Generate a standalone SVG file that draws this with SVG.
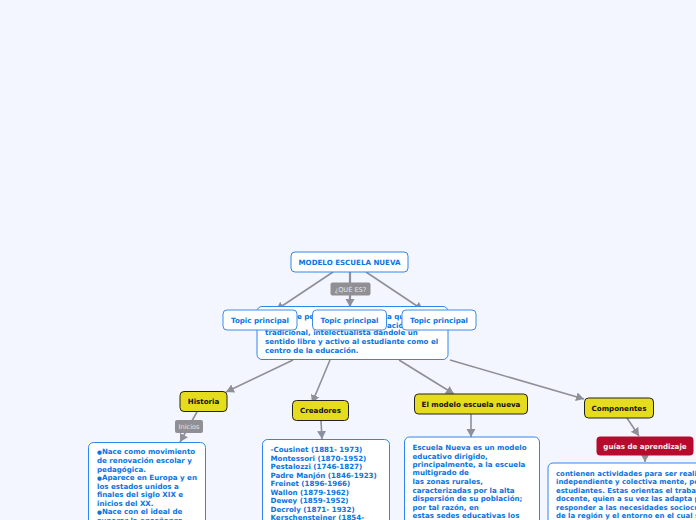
<svg xmlns="http://www.w3.org/2000/svg" width="696" height="520" viewBox="0 0 696 520">
<style>
text{font-family:"DejaVu Sans",sans-serif;font-weight:700;font-size:7.1px}
.box{fill:#fff;stroke:#2f86ee;stroke-width:1}
.t{fill:#0a74e0}
.yel{fill:#e6dc1e;stroke:#222;stroke-width:1}
.k{fill:#111;text-anchor:middle}
.lab{fill:#8f8f94}
.lt{fill:#e6e6e6;font-weight:400;font-size:6.6px;text-anchor:middle}
.c{fill:none;stroke:#8f8f98;stroke-width:1.6;marker-end:url(#a)}
.top{fill:#fff;stroke:#3b8dee;stroke-width:1}
.tt{fill:#0a74e0;text-anchor:middle}
.b{font-size:5.6px}
#guias-text text{font-size:6.95px}
</style>
<defs><marker id="a" markerUnits="userSpaceOnUse" markerWidth="10" markerHeight="10" refX="8" refY="5" orient="auto"><path d="M0 0.500L8 5L0 9.500z" fill="#8f8f98"/></marker></defs>
<rect width="696" height="520" fill="#f3f6ff"/>
<g id="connectors">
<path class="c" d="M333 272L276 310"/>
<path class="c" d="M350 272V307" style="stroke-width:2.200"/>
<path class="c" d="M366 272L423 310"/>
<path class="c" d="M293 360L226 392"/>
<path class="c" d="M330 360L312 403"/>
<path class="c" d="M399 360L454 394"/>
<path class="c" d="M450 360L584 399"/>
<path class="c" d="M197 412L180 442"/>
<path class="c" d="M321 421L322 439"/>
<path class="c" d="M471 414V437"/>
<path class="c" d="M627 418L639 436"/>
<path class="c" d="M645 456V462"/>
<rect class="lab" x="330.500" y="282.500" width="40" height="13" rx="2"/>
<text class="lt" x="350.500" y="291.500">¿QUÉ ES?</text>
<rect class="lab" x="175" y="420" width="28" height="13" rx="2"/>
<text class="lt" x="189" y="429">Inicios</text>
</g>
<g id="root"><rect class="box" x="291" y="252" width="117" height="20" rx="4"/><text class="tt" x="349.500" y="265">MODELO ESCUELA NUEVA</text></g>
<g id="definition"><rect class="box" x="257" y="306.500" width="191" height="53" rx="5"/>
<text class="t"><tspan x="297" y="319">e pe</tspan><tspan x="387" y="319">a qu</tspan><tspan x="265" y="328">ular</tspan><tspan x="387" y="328">ación</tspan><tspan x="265" y="335">tradicional, intelectualista dándole un</tspan><tspan x="265" y="343.500">sentido libre y activo al estudiante como el</tspan><tspan x="265" y="352.500">centro de la educación.</tspan></text></g>
<g id="topic1"><rect class="top" x="223" y="310" width="74" height="20" rx="4"/><text class="tt" x="260" y="323">Topic principal</text></g>
<g id="topic2"><rect class="top" x="312.500" y="310" width="74" height="20" rx="4"/><text class="tt" x="349.500" y="323">Topic principal</text></g>
<g id="topic3"><rect class="top" x="402" y="310" width="74" height="20" rx="4"/><text class="tt" x="439" y="323">Topic principal</text></g>
<g id="historia"><rect class="yel" x="180" y="391.500" width="47" height="20" rx="4"/><text class="k" x="203.500" y="404">Historia</text></g>
<g id="creadores"><rect class="yel" x="292.500" y="400.500" width="56" height="20" rx="4"/><text class="k" x="320.500" y="413">Creadores</text></g>
<g id="modelo"><rect class="yel" x="414.500" y="394" width="113" height="20" rx="4"/><text class="k" x="471" y="407">El modelo escuela nueva</text></g>
<g id="componentes"><rect class="yel" x="584.500" y="398" width="69" height="20" rx="4"/><text class="k" x="619" y="411">Componentes</text></g>
<g id="guias"><rect x="596.500" y="436.500" width="97" height="19" rx="4" fill="#b60b2c"/><text x="645" y="449" fill="#f2f2f2" text-anchor="middle">guías de aprendizaje</text></g>
<g id="historia-text"><rect class="box" x="88.500" y="442.500" width="117" height="90" rx="5"/>
<text class="t"><tspan x="97" y="454"><tspan class="b">●</tspan>Nace como movimiento</tspan><tspan x="97" y="463">de renovación escolar y</tspan><tspan x="97" y="471.500">pedagógica.</tspan><tspan x="97" y="480"><tspan class="b">●</tspan>Aparece en Europa y en</tspan><tspan x="97" y="488.500">los estados unidos a</tspan><tspan x="97" y="497">finales del siglo XIX e</tspan><tspan x="97" y="505.500">inicios del XX.</tspan><tspan x="97" y="514"><tspan class="b">●</tspan>Nace con el ideal de</tspan><tspan x="97" y="522.500">superar la enseñanza</tspan></text></g>
<g id="creadores-text"><rect class="box" x="262.500" y="439.500" width="127" height="90" rx="5"/>
<text class="t"><tspan x="270.500" y="452">-Cousinet (1881- 1973)</tspan><tspan x="270.500" y="461">Montessori (1870-1952)</tspan><tspan x="270.500" y="469">Pestalozzi (1746-1827)</tspan><tspan x="270.500" y="477.500">Padre Manjón (1846-1923)</tspan><tspan x="270.500" y="486">Freinet (1896-1966)</tspan><tspan x="270.500" y="495">Wallon (1879-1962)</tspan><tspan x="270.500" y="503">Dewey (1859-1952)</tspan><tspan x="270.500" y="512">Decroly (1871- 1932)</tspan><tspan x="270.500" y="520">Kerschensteiner (1854-</tspan></text></g>
<g id="modelo-text"><rect class="box" x="404.500" y="437" width="135" height="90" rx="5"/>
<text class="t"><tspan x="412.500" y="450">Escuela Nueva es un modelo</tspan><tspan x="412.500" y="458.500">educativo dirigido,</tspan><tspan x="412.500" y="467">principalmente, a la escuela</tspan><tspan x="412.500" y="475">multigrado de</tspan><tspan x="412.500" y="484">las zonas rurales,</tspan><tspan x="412.500" y="492.500">caracterizadas por la alta</tspan><tspan x="412.500" y="501">dispersión de su población;</tspan><tspan x="412.500" y="509.500">por tal razón, en</tspan><tspan x="412.500" y="518">estas sedes educativas los</tspan></text></g>
<g id="guias-text"><rect class="box" x="548" y="463" width="170" height="70" rx="5"/>
<text class="t"><tspan x="556" y="476">contienen actividades para ser realizadas</tspan><tspan x="556" y="484">independiente y colectiva mente, por los</tspan><tspan x="556" y="493">estudiantes. Estas orientas el trabajo del</tspan><tspan x="556" y="501">docente, quien a su vez las adapta para</tspan><tspan x="556" y="510">responder a las necesidades socioculturales</tspan><tspan x="556" y="518">de la región y el entorno en el cual se</tspan></text></g>
</svg>
